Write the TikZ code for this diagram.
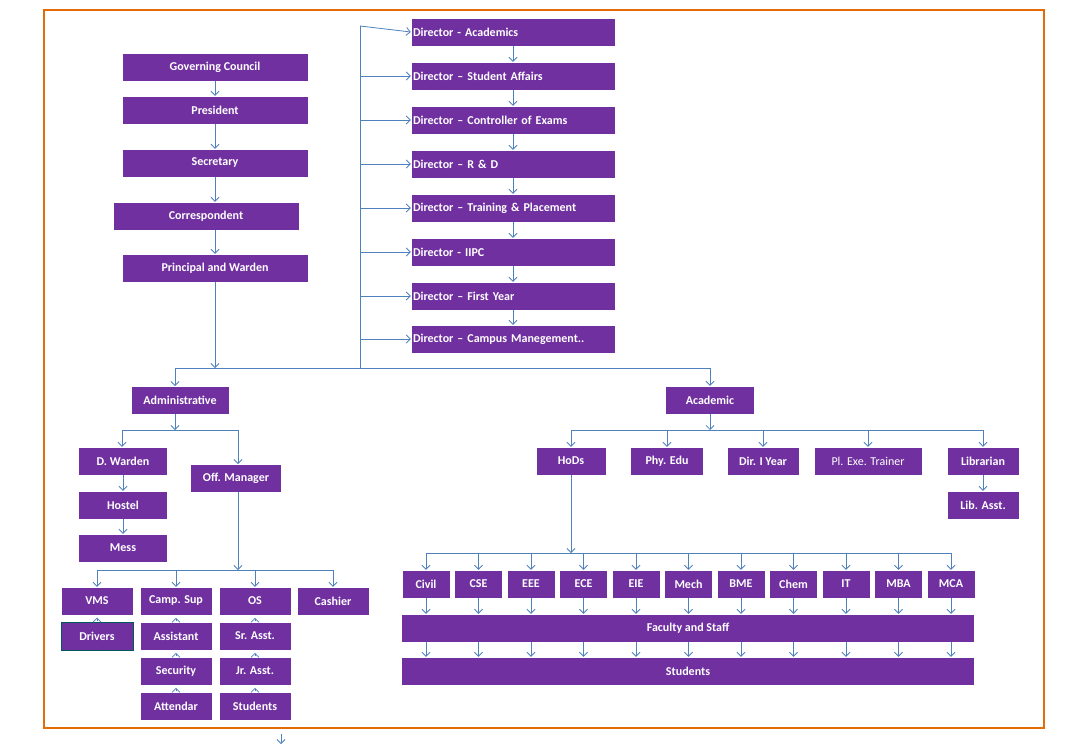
\documentclass[tikz,border=0pt]{standalone}
\usepackage{fontspec}
\setmainfont{Carlito}
\usetikzlibrary{arrows.meta}
\definecolor{boxpurple}{HTML}{7030A0}
\definecolor{linkblue}{HTML}{4F81BD}
\definecolor{frameorange}{HTML}{E36C09}
\begin{document}
\begin{tikzpicture}[x=1pt,y=-1pt,
	box/.style={rectangle,draw=white,fill=boxpurple,text=white,font=\fontsize{12}{14}\selectfont\bfseries,minimum height=28pt,inner sep=1pt},
	dir/.style={box,minimum width=204pt,text width=200pt,align=left},
	dept/.style={box,minimum width=48pt},
	link/.style={draw=linkblue,thick,-{Straight Barb[length=4pt,width=8pt]}},
	line/.style={draw=linkblue,thick}]
	\useasboundingbox (0,0) rectangle (1080,755);
	\draw[frameorange,line width=2pt] (44,10) rectangle (1044,728);
	% left column
	\node[box,minimum width=186pt] (GC) at (215,67) {Governing Council};
	\node[box,minimum width=186pt] (P) at (215,110) {President};
	\node[box,minimum width=186pt] (S) at (215,163) {Secretary};
	\node[box,minimum width=186pt] (C) at (206,216) {Correspondent};
	\node[box,minimum width=186pt] (PW) at (215,268) {Principal and Warden};
	\draw[link] (GC) -- (P);
	\draw[link] (P) -- (S);
	\draw[link] (S.south) -- (S.south |- C.north);
	\draw[link] (C.south -| S.south) -- (S.south |- PW.north);
	% directors
	\node[dir] (DA) at (513,32) {Director - Academics};
	\node[dir] (DS) at (513,76) {Director -- Student Affairs};
	\node[dir] (DC) at (513,120) {Director -- Controller of Exams};
	\node[dir] (DR) at (513,164) {Director -- R \& D};
	\node[dir] (DT) at (513,208) {Director -- Training \& Placement};
	\node[dir] (DI) at (513,252) {Director - IIPC};
	\node[dir] (DF) at (513,296) {Director -- First Year};
	\node[dir] (DM) at (513,339) {Director -- Campus Manegement..};
	\coordinate (top) at (360,26);
	\coordinate (hub) at (360,368);
	\draw[line] (top) -- (hub);
	\draw[link] (top) -- (DA.west);
	\foreach \d in {DS,DC,DR,DT,DI,DF,DM}
		\draw[link] (top |- \d.west) -- (\d.west);
	\foreach \a/\b in {DA/DS,DS/DC,DC/DR,DR/DT,DT/DI,DI/DF,DF/DM}
		\draw[link] (\a) -- (\b);
	% split
	\node[box,minimum width=98pt] (AD) at (180,400) {Administrative};
	\node[box,minimum width=89pt] (AC) at (710,400) {Academic};
	\draw[link] (PW.south) -- (PW.south |- hub);
	\draw[line] (175,368) -- (710,368);
	\draw[link] (175,368) -- (175,386);
	\draw[link] (710,368) -- (AC.north);
	% administrative side
	\node[box,minimum width=89pt] (DW) at (123,461) {D. Warden};
	\node[box,minimum width=89pt] (H) at (123,505) {Hostel};
	\node[box,minimum width=89pt] (M) at (123,548) {Mess};
	\node[box,minimum width=91pt] (OM) at (236,478) {Off. Manager};
	\draw[link] (175,414) -- (175,430);
	\draw[line] (122,430) -- (238,430);
	\draw[link] (122,430) -- (DW.north -| 122,0);
	\draw[link] (238,430) -- (238,464);
	\draw[link] (DW) -- (H);
	\draw[link] (H) -- (M);
	\node[box,minimum width=72pt] (VMS) at (97,601) {VMS};
	\node[box,minimum width=72pt,draw=teal!70!black,thick] (DRV) at (97,636) {Drivers};
	\node[box,minimum width=72pt] (CS) at (176,601) {Camp. Sup};
	\node[box,minimum width=72pt] (AS) at (176,636) {Assistant};
	\node[box,minimum width=72pt] (SE) at (176,671) {Security};
	\node[box,minimum width=72pt] (AT) at (176,706) {Attendar};
	\node[box,minimum width=72pt] (OS) at (255,601) {OS};
	\node[box,minimum width=72pt] (SA) at (255,636) {Sr. Asst.};
	\node[box,minimum width=72pt] (JA) at (255,671) {Jr. Asst.};
	\node[box,minimum width=72pt] (ST) at (255,706) {Students};
	\node[box,minimum width=72pt] (CA) at (333,601) {Cashier};
	\draw[link] (238,492) -- (238,570);
	\draw[line] (97,570) -- (334,570);
	\foreach \n in {VMS,CS,OS,CA}
		\draw[link] (\n.north |- 0,570) -- (\n.north);
	\foreach \a/\b in {VMS/DRV,CS/AS,AS/SE,SE/AT,OS/SA,SA/JA,JA/ST}
		\draw[link] ([yshift=-6pt]\a.south) -- ([yshift=4pt]\b.north);
	\coordinate (out) at (281,734);
	\draw[link] (out) -- (281,744);
	% academic side
	\node[box,minimum width=70pt] (HOD) at (571,461) {HoDs};
	\node[box,minimum width=73pt] (PE) at (667,461) {Phy. Edu};
	\node[box,minimum width=72pt] (DY) at (763,461) {Dir. I Year};
	\node[box,minimum width=108pt,font=\fontsize{12}{14}\selectfont] (PT) at (868,461) {Pl. Exe. Trainer};
	\node[box,minimum width=72pt] (LB) at (983,461) {Librarian};
	\node[box,minimum width=72pt] (LA) at (983,505) {Lib. Asst.};
	\draw[link] (AC.south) -- (710,430);
	\draw[line] (571,430) -- (983,430);
	\foreach \n in {HOD,PE,DY,PT,LB}
		\draw[link] (\n.north |- 0,430) -- (\n.north);
	\draw[link] (LB) -- (LA);
	\node[box,minimum width=573pt] (FS) at (688,628) {Faculty and Staff};
	\node[box,minimum width=573pt] (STU) at (688,671) {Students};
	\draw[link] (HOD.south) -- (571,553);
	\draw[line] (426,553) -- (951,553);
	\foreach \n/\t [count=\i from 0] in {civ/Civil,cse/CSE,eee/EEE,ece/ECE,eie/EIE,mec/Mech,bme/BME,che/Chem,it/IT,mba/MBA,mca/MCA} {
		\node[dept] (\n) at (426+52.5*\i,584) {\t};
		\draw[link] (\n.north |- 0,553) -- (\n.north);
		\draw[link] (\n.south) -- (\n.south |- FS.north);
		\draw[link] (FS.south -| \n.south) -- (\n.south |- STU.north);
	}
\end{tikzpicture}
\end{document}
